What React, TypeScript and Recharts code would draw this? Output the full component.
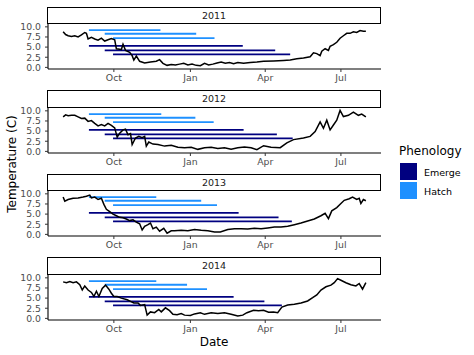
import { ComposedChart, Line, XAxis, YAxis } from "recharts";

// day 0 = 1 Aug; temps as [day, temp]
const temp2011 = [
  [0, 8.8], [3, 8.1], [6, 7.8], [10, 7.6], [14, 7.8], [18, 7.5], [22, 8.0], [26, 8.6], [28, 8.4], [30, 7.0],
  [34, 7.4], [38, 7.0], [42, 6.7], [46, 7.2], [50, 6.5], [54, 6.8], [58, 7.1], [62, 6.8], [64, 4.6], [68, 4.5],
  [70, 4.4], [72, 5.7], [75, 4.2], [80, 3.7], [83, 2.9], [85, 1.8], [88, 2.8], [92, 1.5], [98, 1.1], [105, 1.3],
  [112, 1.5], [116, 1.9], [120, 1.0], [125, 0.5], [130, 0.7], [135, 0.6], [140, 0.8], [145, 1.0], [150, 0.6],
  [155, 0.8], [160, 0.5], [165, 0.4], [170, 1.0], [175, 0.6], [180, 0.8], [185, 1.1], [190, 1.3], [195, 1.0],
  [200, 1.2], [205, 0.9], [210, 1.2], [217, 1.0], [225, 1.2], [233, 1.3], [241, 1.5], [253, 1.6], [265, 1.7],
  [273, 1.8], [281, 2.1], [289, 2.3], [297, 2.6], [301, 3.6], [305, 3.4], [309, 2.9], [311, 4.0], [315, 4.6],
  [319, 4.2], [321, 5.2], [325, 5.6], [329, 6.2], [333, 7.2], [337, 7.8], [341, 8.4], [345, 8.4], [349, 8.8],
  [353, 8.6], [357, 9.1], [361, 8.9], [364, 8.9],
];
const temp2012 = [
  [0, 8.5], [3, 9.0], [6, 8.8], [10, 8.9], [14, 8.9], [18, 8.5], [22, 8.1], [26, 8.2], [30, 7.4], [34, 7.6],
  [38, 6.9], [42, 6.3], [46, 6.6], [50, 6.3], [54, 6.9], [58, 6.4], [62, 5.8], [65, 3.5], [68, 4.5], [72, 5.3],
  [75, 5.5], [78, 4.1], [81, 4.4], [83, 1.7], [87, 3.3], [91, 3.7], [95, 3.4], [98, 3.7], [100, 1.3], [103, 2.3],
  [108, 1.8], [114, 1.7], [122, 1.3], [130, 1.5], [138, 1.0], [146, 0.9], [154, 1.0], [162, 0.5], [170, 0.9],
  [178, 1.0], [186, 0.7], [194, 0.9], [202, 0.5], [210, 0.9], [218, 1.1], [226, 0.9], [233, 0.4], [241, 1.4],
  [250, 1.0], [261, 0.9], [269, 2.1], [277, 2.9], [289, 3.3], [297, 3.7], [303, 4.9], [309, 7.3], [313, 5.7],
  [317, 7.7], [321, 5.3], [325, 6.5], [329, 7.7], [333, 10.1], [337, 8.6], [343, 8.9], [349, 9.7], [355, 8.9],
  [359, 9.2], [364, 8.5],
];
const temp2013 = [
  [0, 9.2], [2, 8.2], [6, 8.6], [12, 8.9], [18, 9.0], [24, 9.2], [28, 9.4], [32, 9.7], [34, 9.0], [38, 9.2],
  [42, 8.6], [46, 8.9], [49, 7.4], [52, 6.2], [56, 5.6], [60, 5.0], [64, 4.6], [68, 4.2], [72, 4.1], [76, 3.8],
  [80, 3.4], [84, 3.6], [88, 3.0], [92, 2.6], [95, 1.1], [98, 2.0], [102, 2.4], [105, 2.8], [108, 1.4], [112, 1.8],
  [116, 0.8], [121, 1.5], [125, 0.3], [130, 0.9], [134, 0.9], [142, 1.0], [150, 0.9], [158, 1.2], [166, 1.0],
  [174, 0.9], [182, 0.6], [189, 0.6], [198, 1.2], [206, 1.4], [214, 1.4], [222, 1.3], [230, 1.5], [238, 1.4],
  [246, 1.6], [254, 1.8], [262, 1.8], [270, 2.0], [278, 2.4], [286, 2.8], [294, 3.3], [302, 3.8], [310, 4.6],
  [315, 5.2], [319, 3.9], [323, 5.8], [329, 6.6], [334, 7.6], [338, 8.4], [344, 8.8], [348, 9.2], [353, 8.6],
  [356, 8.9], [358, 7.6], [361, 8.6], [364, 8.3],
];
const temp2014 = [
  [0, 9.0], [4, 8.8], [8, 9.1], [12, 8.8], [16, 9.0], [20, 8.3], [23, 7.0], [26, 8.0], [30, 7.0], [34, 6.4],
  [37, 5.4], [40, 6.7], [43, 5.4], [47, 7.4], [51, 8.2], [55, 7.2], [58, 6.2], [61, 5.4], [65, 5.4], [70, 5.0],
  [77, 4.6], [81, 4.2], [85, 3.8], [90, 3.8], [93, 3.2], [98, 3.4], [101, 0.8], [105, 1.6], [110, 1.4], [115, 2.2],
  [118, 1.6], [123, 2.6], [128, 1.9], [132, 1.0], [137, 0.9], [142, 1.2], [146, 0.8], [153, 0.7], [158, 1.1],
  [165, 1.4], [170, 1.0], [178, 1.4], [186, 1.2], [194, 1.4], [202, 1.0], [210, 0.6], [216, 0.8], [221, 1.4],
  [229, 2.0], [235, 1.9], [241, 2.0], [247, 1.5], [253, 1.6], [258, 1.4], [263, 2.8], [270, 3.3], [278, 3.5],
  [286, 3.8], [294, 4.3], [300, 5.1], [305, 5.8], [310, 7.0], [316, 7.8], [322, 8.2], [326, 8.8], [330, 9.8],
  [334, 9.4], [340, 8.8], [346, 8.3], [352, 8.0], [356, 8.6], [360, 7.2], [364, 8.8],
];

const years = ["2011", "2012", "2013", "2014"];
const temps = [temp2011, temp2012, temp2013, temp2014];

// phenology segments: same spawn days each year, end day differs
const spawnDays = [31, 50, 60];
const hatchY = [9.2, 8.3, 7.2];
const emergeY = [5.3, 4.2, 3.2];
const hatchEnds = [
  [117, 160, 182],
  [118, 159, 181],
  [112, 166, 185],
  [112, 149, 173],
];
const emergeEnds = [
  [216, 255, 273],
  [217, 257, 276],
  [211, 259, 275],
  [205, 242, 263],
];

const monthTicks = [61, 153, 243, 334];
const monthLabels = ["Oct", "Jan", "Apr", "Jul"];
const tempTicks = [0, 2.5, 5, 7.5, 10];

const FONT = "DejaVu Sans";
const EMERGE = "#000080";
const HATCH = "#1E90FF";
const PAD = 6; // room above plot so the 10.0 label isn't clipped

const tickStyle = { fontSize: 9.3, fill: "#4D4D4D", fontFamily: FONT };

const Panel = ({ idx }: { idx: number }) => {
  const top = 6.5 + idx * 83.5;
  const data = temps[idx].map(([day, t]) => ({ day, t }));
  return (
    <>
      <div style={{ position: "absolute", left: 0, top: top + 17.5 - PAD }}>
        <ComposedChart width={474} height={65 + PAD} data={data} margin={{ top: PAD, right: 93, bottom: 0, left: 0 }}>
          <XAxis
            dataKey="day"
            type="number"
            domain={[-18.2, 382.2]}
            allowDataOverflow
            ticks={monthTicks}
            interval={0}
            tickFormatter={(v: number) => monthLabels[monthTicks.indexOf(v)]}
            tick={tickStyle}
            tickSize={3}
            tickMargin={2}
            tickLine={{ stroke: "#333" }}
            axisLine={{ stroke: "#000", strokeWidth: 1.1 }}
            height={20}
          />
          <YAxis
            type="number"
            domain={[-0.4, 10.7]}
            allowDataOverflow
            ticks={tempTicks}
            interval={0}
            tickFormatter={(v: number) => v.toFixed(1)}
            tick={tickStyle}
            tickSize={3}
            tickMargin={4}
            tickLine={{ stroke: "#333" }}
            axisLine={{ stroke: "#000", strokeWidth: 1.1 }}
            width={48}
          />
          {spawnDays.map((s, i) => (
            <Line
              key={"h" + i}
              data={[{ day: s, v: hatchY[i] }, { day: hatchEnds[idx][i], v: hatchY[i] }]}
              dataKey="v"
              stroke={HATCH}
              strokeWidth={1.8}
              dot={false}
              activeDot={false}
              isAnimationActive={false}
            />
          ))}
          {spawnDays.map((s, i) => (
            <Line
              key={"e" + i}
              data={[{ day: s, v: emergeY[i] }, { day: emergeEnds[idx][i], v: emergeY[i] }]}
              dataKey="v"
              stroke={EMERGE}
              strokeWidth={1.8}
              dot={false}
              activeDot={false}
              isAnimationActive={false}
            />
          ))}
          <Line
            dataKey="t"
            type="linear"
            stroke="#000"
            strokeWidth={1.5}
            dot={false}
            activeDot={false}
            isAnimationActive={false}
          />
        </ComposedChart>
      </div>
      <div
        style={{
          position: "absolute",
          left: 47,
          top,
          width: 334,
          height: 17.5,
          boxSizing: "border-box",
          border: "1px solid #000",
          background: "#fff",
          fontFamily: FONT,
          fontSize: 9.5,
          color: "#1A1A1A",
          display: "flex",
          alignItems: "center",
          justifyContent: "center",
        }}
      >
        {years[idx]}
      </div>
    </>
  );
};

const legendItems = [
  { name: "Emerge", color: EMERGE },
  { name: "Hatch", color: HATCH },
];

export default function App() {
  return (
    <div style={{ position: "absolute", left: 0, top: 0, width: 474, height: 355, background: "#fff", fontFamily: FONT }}>
      {years.map((_, i) => (
        <Panel key={i} idx={i} />
      ))}
      <div
        style={{
          position: "absolute",
          left: 12,
          top: 163.5,
          transform: "translate(-50%, -50%) rotate(-90deg)",
          fontSize: 12,
          color: "#000",
          whiteSpace: "nowrap",
        }}
      >
        Temperature (C)
      </div>
      <div
        style={{
          position: "absolute",
          left: 214,
          top: 342,
          transform: "translate(-50%, -50%)",
          fontSize: 12,
          color: "#000",
        }}
      >
        Date
      </div>
      <div style={{ position: "absolute", left: 399, top: 144, fontSize: 12, lineHeight: "15px" }}>Phenology</div>
      {legendItems.map((it, i) => (
        <div key={it.name}>
          <div
            style={{
              position: "absolute",
              left: 400,
              top: 163 + i * 18.5,
              width: 17.3,
              height: 17.3,
              background: it.color,
            }}
          />
          <div
            style={{
              position: "absolute",
              left: 424,
              top: 172 + i * 18.7,
              transform: "translateY(-50%)",
              fontSize: 9.5,
              color: "#000",
            }}
          >
            {it.name}
          </div>
        </div>
      ))}
    </div>
  );
}
